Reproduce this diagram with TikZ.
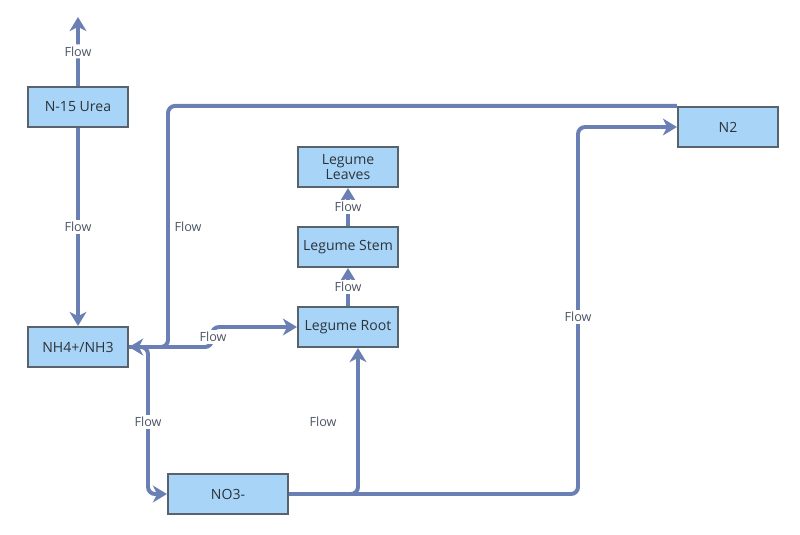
\documentclass[tikz,border=0pt]{standalone}
\usepackage{fontspec}
\setmainfont{Open Sans}
\usetikzlibrary{arrows.meta}

\definecolor{flowblue}{HTML}{6A80B4}
\definecolor{stockfill}{HTML}{A8D5F7}
\definecolor{stockline}{HTML}{59636E}
\definecolor{labelgray}{HTML}{4B5563}

\tikzset{
	stock/.style={draw=stockline, line width=1.5pt, fill=stockfill, minimum width=2.5cm, minimum height=1cm, inner sep=1pt, align=center, text=labelgray!60!black, font=\fontsize{10}{11}\selectfont},
	flow/.style={draw=flowblue, line width=2.8pt, rounded corners=5pt, -{Stealth[length=10pt, width=12pt, inset=3pt]}},
	flowlabel/.style={fill=white, inner sep=1.5pt, text=labelgray, font=\fontsize{9}{10}\selectfont},
}

\begin{document}
\begin{tikzpicture}[x=0.025cm, y=-0.025cm]
	\useasboundingbox (0, 0) rectangle (800, 534);

	% Stocks
	\node[stock] (urea) at (78, 107) {N-15 Urea};
	\node[stock] (nh4) at (78, 347) {NH4+/NH3};
	\node[stock, minimum width=3cm] (no3) at (228, 494) {NO3-};
	\node[stock] (n2) at (728, 127) {N2};
	\node[stock] (root) at (348, 327) {Legume Root};
	\node[stock] (stem) at (348, 247) {Legume Stem};
	\node[stock] (leaves) at (348, 167) {Legume\\Leaves};

	% Bends of the flows
	\coordinate (out) at (78, 17);
	\coordinate (j1) at (168, 347);
	\coordinate (j2) at (578, 317);
	\coordinate (j3) at (148, 347);
	\coordinate (j4) at (212, 347);

	% Flows
	\draw[flow] (urea.north) -- node[flowlabel] {Flow} (out);
	\draw[flow] (urea.south) -- node[flowlabel] {Flow} (nh4.north);
	\draw[flow] (n2.north west) -| (j1) -- (nh4.east);
	\draw[flow] (nh4.east) -- (j4) |- (root.west);
	\draw[flow] (nh4.east) -- (j3) |- (no3.west);
	\draw[flow] (no3.east) -| ([xshift=0.25cm]root.south);
	\draw[flow] (no3.east) -| (j2) |- (n2.west);
	\draw[flow] (root.north) -- node[flowlabel] {Flow} (stem.south);
	\draw[flow] (stem.north) -- node[flowlabel] {Flow} (leaves.south);

	% Labels off the lines
	\node[flowlabel] (l1) at (188, 227) {Flow};
	\node[flowlabel] (l2) at (213, 337) {Flow};
	\node[flowlabel] (l3) at (148, 422) {Flow};
	\node[flowlabel] (l4) at (323, 422) {Flow};
	\node[flowlabel] (l5) at (578, 317) {Flow};
\end{tikzpicture}
\end{document}
